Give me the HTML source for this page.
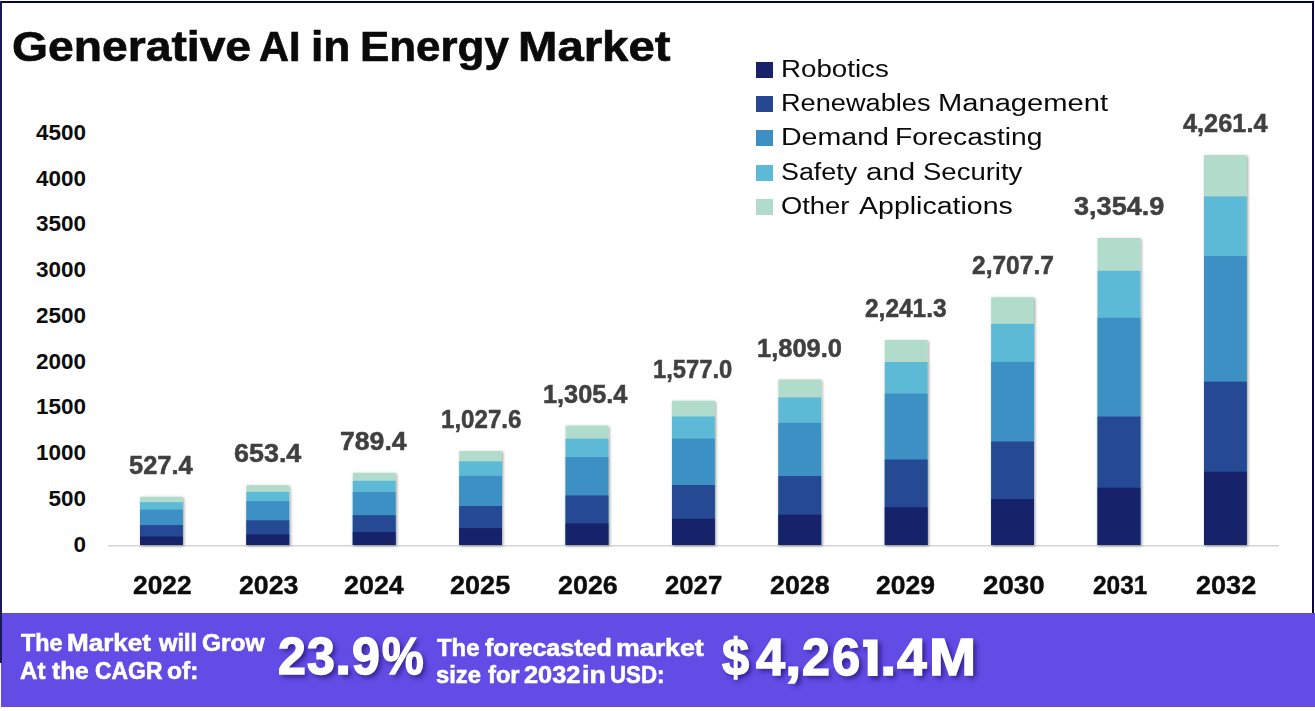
<!DOCTYPE html>
<html><head><meta charset="utf-8">
<style>
html,body{margin:0;padding:0;}
body{width:1315px;position:relative;overflow:hidden;background:#fff;font-family:"Liberation Sans",sans-serif;}
.bt{position:absolute;left:0;top:1px;width:1314px;height:2px;background:#060538;}
.bl{position:absolute;left:0;top:1px;width:2px;height:662px;background:#1A1A58;z-index:5;}
.bw{position:absolute;left:0;top:663px;width:1px;height:44px;background:#fff;z-index:5;}
.br{position:absolute;left:1312px;top:1px;width:2px;height:612px;background:#060538;}
.w{position:absolute;white-space:nowrap;transform-origin:0 0;}
.title{font-size:43px;font-weight:bold;color:#0a0a0a;-webkit-text-stroke:0.7px #0a0a0a;line-height:50px;}
.yl{position:absolute;left:0;width:86px;text-align:right;font-size:22.5px;font-weight:bold;color:#0d0d0d;line-height:26px;}
.xl{font-size:25.5px;font-weight:bold;color:#0d0d0d;-webkit-text-stroke:0.4px #0d0d0d;line-height:30px;}
.dl{font-size:25px;font-weight:bold;color:#404040;-webkit-text-stroke:0.5px #404040;line-height:30px;}
.lsq{position:absolute;left:756px;width:17px;height:16px;}
.lt{font-size:23.5px;color:#0a0a0a;line-height:30px;}
.band{position:absolute;left:0;top:613px;width:1315px;height:94px;background:#634BE6;}
.bt1{font-weight:bold;color:#fff;-webkit-text-stroke:0.6px #fff;font-size:23px;line-height:27.5px;}
.big{font-weight:bold;color:#fff;-webkit-text-stroke:1.4px #fff;font-size:51px;line-height:60px;text-shadow:3px 3px 5px rgba(30,15,110,0.75);}
svg{position:absolute;left:0;top:0;}

body{height:711px;}
</style></head><body>
<div class="bt"></div><div class="bl"></div><div class="bw"></div><div class="br"></div>
<svg width="1315" height="711">
<defs><filter id="sh" x="-20%" y="-5%" width="140%" height="110%"><feGaussianBlur in="SourceAlpha" stdDeviation="1.5"/><feOffset dx="0.5" dy="0.5"/><feComponentTransfer><feFuncA type="linear" slope="0.4"/></feComponentTransfer><feMerge><feMergeNode/><feMergeNode in="SourceGraphic"/></feMerge></filter></defs>
<rect x="108" y="545" width="1171" height="1.5" fill="#D4D4D4"/>
<g filter="url(#sh)"><rect x="140.00" y="496.74" width="42.8" height="48.26" fill="#B1DCCB"/><rect x="140.00" y="502.15" width="42.8" height="42.85" fill="#5DBAD6"/><rect x="140.00" y="509.63" width="42.8" height="35.37" fill="#3D90C3"/><rect x="140.00" y="525.12" width="42.8" height="19.88" fill="#264893"/><rect x="140.00" y="536.56" width="42.8" height="8.44" fill="#18216A"/></g><g filter="url(#sh)"><rect x="246.40" y="485.21" width="42.8" height="59.79" fill="#B1DCCB"/><rect x="246.40" y="491.87" width="42.8" height="53.13" fill="#5DBAD6"/><rect x="246.40" y="501.13" width="42.8" height="43.87" fill="#3D90C3"/><rect x="246.40" y="520.33" width="42.8" height="24.67" fill="#264893"/><rect x="246.40" y="534.46" width="42.8" height="10.54" fill="#18216A"/></g><g filter="url(#sh)"><rect x="352.80" y="472.77" width="42.8" height="72.23" fill="#B1DCCB"/><rect x="352.80" y="480.77" width="42.8" height="64.23" fill="#5DBAD6"/><rect x="352.80" y="491.94" width="42.8" height="53.06" fill="#3D90C3"/><rect x="352.80" y="515.14" width="42.8" height="29.86" fill="#264893"/><rect x="352.80" y="532.17" width="42.8" height="12.83" fill="#18216A"/></g><g filter="url(#sh)"><rect x="459.20" y="450.97" width="42.8" height="94.03" fill="#B1DCCB"/><rect x="459.20" y="461.34" width="42.8" height="83.66" fill="#5DBAD6"/><rect x="459.20" y="475.85" width="42.8" height="69.15" fill="#3D90C3"/><rect x="459.20" y="506.06" width="42.8" height="38.94" fill="#264893"/><rect x="459.20" y="528.18" width="42.8" height="16.82" fill="#18216A"/></g><g filter="url(#sh)"><rect x="565.60" y="425.56" width="42.8" height="119.44" fill="#B1DCCB"/><rect x="565.60" y="438.65" width="42.8" height="106.35" fill="#5DBAD6"/><rect x="565.60" y="457.07" width="42.8" height="87.93" fill="#3D90C3"/><rect x="565.60" y="495.45" width="42.8" height="49.55" fill="#264893"/><rect x="565.60" y="523.48" width="42.8" height="21.52" fill="#18216A"/></g><g filter="url(#sh)"><rect x="672.00" y="400.70" width="42.8" height="144.30" fill="#B1DCCB"/><rect x="672.00" y="416.43" width="42.8" height="128.57" fill="#5DBAD6"/><rect x="672.00" y="438.65" width="42.8" height="106.35" fill="#3D90C3"/><rect x="672.00" y="485.05" width="42.8" height="59.95" fill="#264893"/><rect x="672.00" y="518.81" width="42.8" height="26.19" fill="#18216A"/></g><g filter="url(#sh)"><rect x="778.40" y="379.48" width="42.8" height="165.52" fill="#B1DCCB"/><rect x="778.40" y="397.42" width="42.8" height="147.58" fill="#5DBAD6"/><rect x="778.40" y="422.88" width="42.8" height="122.12" fill="#3D90C3"/><rect x="778.40" y="476.11" width="42.8" height="68.89" fill="#264893"/><rect x="778.40" y="514.74" width="42.8" height="30.26" fill="#18216A"/></g><g filter="url(#sh)"><rect x="884.80" y="339.92" width="42.8" height="205.08" fill="#B1DCCB"/><rect x="884.80" y="362.03" width="42.8" height="182.97" fill="#5DBAD6"/><rect x="884.80" y="393.53" width="42.8" height="151.47" fill="#3D90C3"/><rect x="884.80" y="459.50" width="42.8" height="85.50" fill="#264893"/><rect x="884.80" y="507.24" width="42.8" height="37.76" fill="#18216A"/></g><g filter="url(#sh)"><rect x="991.20" y="297.25" width="42.8" height="247.75" fill="#B1DCCB"/><rect x="991.20" y="323.80" width="42.8" height="221.20" fill="#5DBAD6"/><rect x="991.20" y="361.81" width="42.8" height="183.19" fill="#3D90C3"/><rect x="991.20" y="441.54" width="42.8" height="103.46" fill="#264893"/><rect x="991.20" y="499.07" width="42.8" height="45.93" fill="#18216A"/></g><g filter="url(#sh)"><rect x="1097.60" y="238.03" width="42.8" height="306.97" fill="#B1DCCB"/><rect x="1097.60" y="270.75" width="42.8" height="274.25" fill="#5DBAD6"/><rect x="1097.60" y="317.78" width="42.8" height="227.22" fill="#3D90C3"/><rect x="1097.60" y="416.59" width="42.8" height="128.41" fill="#264893"/><rect x="1097.60" y="487.69" width="42.8" height="57.31" fill="#18216A"/></g><g filter="url(#sh)"><rect x="1204.00" y="155.08" width="42.8" height="389.92" fill="#B1DCCB"/><rect x="1204.00" y="196.41" width="42.8" height="348.59" fill="#5DBAD6"/><rect x="1204.00" y="256.07" width="42.8" height="288.93" fill="#3D90C3"/><rect x="1204.00" y="381.62" width="42.8" height="163.38" fill="#264893"/><rect x="1204.00" y="471.70" width="42.8" height="73.30" fill="#18216A"/></g>
</svg>
<div class="yl" style="top:531.7px">0</div><div class="yl" style="top:485.9px">500</div><div class="yl" style="top:440.2px">1000</div><div class="yl" style="top:394.4px">1500</div><div class="yl" style="top:348.7px">2000</div><div class="yl" style="top:302.9px">2500</div><div class="yl" style="top:257.2px">3000</div><div class="yl" style="top:211.4px">3500</div><div class="yl" style="top:165.7px">4000</div><div class="yl" style="top:120.0px">4500</div>
<div class="lsq" style="top:61.5px;background:#18216A"></div><div class="lsq" style="top:95.9px;background:#264893"></div><div class="lsq" style="top:130.3px;background:#3D90C3"></div><div class="lsq" style="top:164.7px;background:#5DBAD6"></div><div class="lsq" style="top:199.1px;background:#B1DCCB"></div>
<div class="w dl" style="left:128.80px;top:449.7px;transform:scaleX(1.0190)">527.4</div><div class="w xl" style="left:132.90px;top:570.0px;transform:scaleX(1.0321)">2022</div><div class="w dl" style="left:233.80px;top:438.2px;transform:scaleX(1.0762)">653.4</div><div class="w xl" style="left:238.60px;top:570.0px;transform:scaleX(1.0464)">2023</div><div class="w dl" style="left:339.54px;top:425.8px;transform:scaleX(1.0645)">789.4</div><div class="w xl" style="left:343.60px;top:570.0px;transform:scaleX(1.0544)">2024</div><div class="w dl" style="left:440.74px;top:404.0px;transform:scaleX(0.9634)">1,027.6</div><div class="w xl" style="left:450.40px;top:570.0px;transform:scaleX(1.0607)">2025</div><div class="w dl" style="left:542.99px;top:378.6px;transform:scaleX(1.0120)">1,305.4</div><div class="w xl" style="left:557.60px;top:570.0px;transform:scaleX(1.0536)">2026</div><div class="w dl" style="left:652.75px;top:353.7px;transform:scaleX(0.9512)">1,577.0</div><div class="w xl" style="left:664.80px;top:570.0px;transform:scaleX(1.0089)">2027</div><div class="w dl" style="left:756.98px;top:332.5px;transform:scaleX(1.0195)">1,809.0</div><div class="w xl" style="left:769.70px;top:570.0px;transform:scaleX(1.0518)">2028</div><div class="w dl" style="left:865.00px;top:292.9px;transform:scaleX(0.9783)">2,241.3</div><div class="w xl" style="left:876.40px;top:570.0px;transform:scaleX(1.0411)">2029</div><div class="w dl" style="left:971.80px;top:250.2px;transform:scaleX(0.9819)">2,707.7</div><div class="w xl" style="left:982.90px;top:570.0px;transform:scaleX(1.0857)">2030</div><div class="w dl" style="left:1074.30px;top:191.0px;transform:scaleX(1.0831)">3,354.9</div><div class="w xl" style="left:1092.70px;top:570.0px;transform:scaleX(0.9596)">2031</div><div class="w dl" style="left:1182.90px;top:108.1px;transform:scaleX(1.0131)">4,261.4</div><div class="w xl" style="left:1196.40px;top:570.0px;transform:scaleX(1.0607)">2032</div><div class="w title" style="left:11.92px;top:21.0px;transform:scaleX(1.0755)">Generative</div><div class="w title" style="left:259.40px;top:21.0px;transform:scaleX(0.9659)">AI</div><div class="w title" style="left:310.94px;top:21.0px;transform:scaleX(1.0294)">in</div><div class="w title" style="left:360.26px;top:21.0px;transform:scaleX(1.0208)">Energy</div><div class="w title" style="left:517.90px;top:21.0px;transform:scaleX(1.1000)">Market</div><div class="w lt" style="left:780.74px;top:53.5px;transform:scaleX(1.1787)">Robotics</div><div class="w lt" style="left:780.79px;top:87.9px;transform:scaleX(1.1559)">Renewables</div><div class="w lt" style="left:938.22px;top:87.9px;transform:scaleX(1.2393)">Management</div><div class="w lt" style="left:780.67px;top:122.3px;transform:scaleX(1.2151)">Demand</div><div class="w lt" style="left:895.00px;top:122.3px;transform:scaleX(1.2008)">Forecasting</div><div class="w lt" style="left:781.46px;top:156.7px;transform:scaleX(1.1424)">Safety</div><div class="w lt" style="left:866.34px;top:156.7px;transform:scaleX(1.2568)">and</div><div class="w lt" style="left:922.83px;top:156.7px;transform:scaleX(1.1702)">Security</div><div class="w lt" style="left:780.94px;top:191.1px;transform:scaleX(1.1638)">Other</div><div class="w lt" style="left:859.00px;top:191.1px;transform:scaleX(1.2143)">Applications</div>
<div class="band"></div>
<div class="w bt1" style="left:20.90px;top:630.0px;transform:scaleX(1.0150)">The</div><div class="w bt1" style="left:66.64px;top:630.0px;transform:scaleX(1.1319)">Market</div><div class="w bt1" style="left:159.30px;top:630.0px;transform:scaleX(1.0306)">will</div><div class="w bt1" style="left:201.73px;top:630.0px;transform:scaleX(1.0655)">Grow</div><div class="w bt1" style="left:20.05px;top:658.0px;transform:scaleX(1.0478)">At</div><div class="w bt1" style="left:52.10px;top:658.0px;transform:scaleX(1.0618)">the</div><div class="w bt1" style="left:94.60px;top:658.0px;transform:scaleX(0.9955)">CAGR</div><div class="w bt1" style="left:167.13px;top:658.0px;transform:scaleX(1.0654)">of:</div><div class="w bt1" style="left:436.90px;top:635.0px;transform:scaleX(1.0375)">The</div><div class="w bt1" style="left:485.40px;top:635.0px;transform:scaleX(1.0904)">forecasted</div><div class="w bt1" style="left:616.17px;top:635.0px;transform:scaleX(1.1630)">market</div><div class="w bt1" style="left:435.57px;top:662.0px;transform:scaleX(1.0333)">size</div><div class="w bt1" style="left:487.50px;top:662.0px;transform:scaleX(1.0300)">for</div><div class="w bt1" style="left:523.70px;top:662.0px;transform:scaleX(1.1020)">2032</div><div class="w bt1" style="left:581.97px;top:662.0px;transform:scaleX(1.1647)">in</div><div class="w bt1" style="left:610.33px;top:662.0px;transform:scaleX(0.9679)">USD:</div><div class="w big" style="left:277.52px;top:627.0px;transform:scaleX(0.9846)">2</div><div class="w big" style="left:306.72px;top:627.0px;transform:scaleX(0.9846)">3</div><div class="w big" style="left:334.65px;top:627.0px;transform:scaleX(1.1500)">.</div><div class="w big" style="left:351.72px;top:627.0px;transform:scaleX(0.9846)">9</div><div class="w big" style="left:382.25px;top:627.0px;transform:scaleX(0.9200)">%</div><div class="w big" style="left:721.90px;top:628.0px;transform:scaleX(0.9571)">$</div><div class="w big" style="left:755.70px;top:628.0px;transform:scaleX(1.0250)">4</div><div class="w big" style="left:784.85px;top:628.0px;transform:scaleX(1.1500)">,</div><div class="w big" style="left:802.02px;top:628.0px;transform:scaleX(0.9846)">2</div><div class="w big" style="left:832.40px;top:628.0px;transform:scaleX(0.9962)">6</div><div class="w big" style="left:880.25px;top:628.0px;transform:scaleX(1.1500)">.</div><div class="w big" style="left:896.80px;top:628.0px;transform:scaleX(1.0464)">4</div><div class="w big" style="left:928.68px;top:628.0px;transform:scaleX(1.1083)">M</div>
<svg width="1315" height="711" style="z-index:3"><defs><filter id="ts" x="-100%" y="-50%" width="300%" height="200%"><feGaussianBlur in="SourceAlpha" stdDeviation="2.5" result="b"/><feOffset in="b" dx="3" dy="3" result="o"/><feFlood flood-color="rgb(30,15,110)" flood-opacity="0.75"/><feComposite in2="o" operator="in" result="s"/><feMerge><feMergeNode in="s"/><feMergeNode in="SourceGraphic"/></feMerge></filter></defs>
<polygon points="863.1,639.4 877.5,639.4 877.5,676 867.7,676 867.7,647.1 863.1,647.1" fill="#fff" filter="url(#ts)"/>
</svg>
</body></html>
